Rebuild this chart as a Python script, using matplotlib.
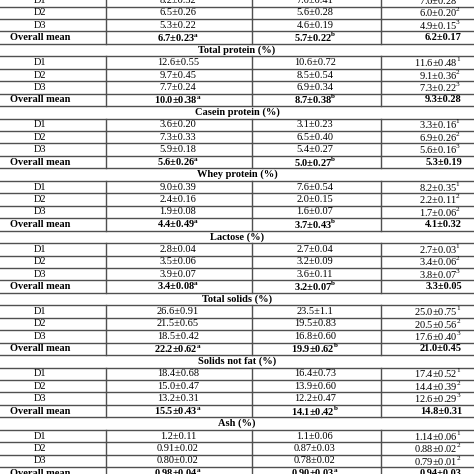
import matplotlib
matplotlib.use("Agg")
import matplotlib.pyplot as plt

plt.rcParams['font.family'] = 'Liberation Serif'
plt.rcParams['mathtext.fontset'] = 'custom'
plt.rcParams['mathtext.rm'] = 'Liberation Serif'
plt.rcParams['mathtext.bf'] = 'Liberation Serif:bold'

sections = ["Fat (%)", "Total protein (%)", "Casein protein (%)", "Whey protein (%)",
            "Lactose (%)", "Total solids (%)", "Solids not fat (%)", "Ash (%)"]
row_labels = ["D1", "D2", "D3"]
col_a = [["8.2±0.32", "6.5±0.26", "5.3±0.22"], ["12.6±0.55", "9.7±0.45", "7.7±0.24"],
         ["3.6±0.20", "7.3±0.33", "5.9±0.18"], ["9.0±0.39", "2.4±0.16", "1.9±0.08"],
         ["2.8±0.04", "3.5±0.06", "3.9±0.07"], ["26.6±0.91", "21.5±0.65", "18.5±0.42"],
         ["18.4±0.68", "15.0±0.47", "13.2±0.31"], ["1.2±0.11", "0.91±0.02", "0.80±0.02"]]
col_b = [["7.0±0.41", "5.6±0.28", "4.6±0.19"], ["10.6±0.72", "8.5±0.54", "6.9±0.34"],
         ["3.1±0.23", "6.5±0.40", "5.4±0.27"], ["7.6±0.54", "2.0±0.15", "1.6±0.07"],
         ["2.7±0.04", "3.2±0.09", "3.6±0.11"], ["23.5±1.1", "19.5±0.83", "16.8±0.60"],
         ["16.4±0.73", "13.9±0.60", "12.2±0.47"], ["1.1±0.06", "0.87±0.03", "0.78±0.02"]]
col_c = [["7.6±0.28", "6.0±0.20", "4.9±0.15"], ["11.6±0.48", "9.1±0.36", "7.3±0.22"],
         ["3.3±0.16", "6.9±0.26", "5.6±0.16"], ["8.2±0.35", "2.2±0.11", "1.7±0.06"],
         ["2.7±0.03", "3.4±0.06", "3.8±0.07"], ["25.0±0.75", "20.5±0.56", "17.6±0.40"],
         ["17.4±0.52", "14.4±0.39", "12.6±0.29"], ["1.14±0.06", "0.88±0.02", "0.79±0.01"]]
col_c_sup = [["1", "2", "3"], ["1", "2", "3"], ["1", "2", "3"], ["1", "2", "2"],
             ["1", "2", "3"], ["1", "2", "3"], ["1", "2", "3"], ["1", "2", "2"]]
mean_a = ["6.7±0.23", "10.0±0.38", "5.6±0.26", "4.4±0.49", "3.4±0.08", "22.2±0.62", "15.5±0.43", "0.98±0.04"]
mean_b = ["5.7±0.22", "8.7±0.38", "5.0±0.27", "3.7±0.43", "3.2±0.07", "19.9±0.62", "14.1±0.42", "0.90±0.03"]
mean_c = ["6.2±0.17", "9.3±0.28", "5.3±0.19", "4.1±0.32", "3.3±0.05", "21.0±0.45", "14.8±0.31", "0.94±0.03"]
mean_a_sup = ["a"] * 8
mean_b_sup = ["b"] * 7 + ["a"]

fig = plt.figure(figsize=(4.74, 4.74), dpi=100)
ax = fig.add_axes([0, 0, 1, 1])
ax.set_xlim(0, 474)
ax.set_ylim(474, 0)
ax.axis('off')

rh = 12.45
y0 = 0.3
fs = 7.5
lc = '#505050'
xv = [106, 252, 381]
xc1, xc2, xc3, xr4 = 40, 178, 315, 461

rows = []
for s in range(len(sections)):
    if s > 0:
        rows.append(('h', s, None))
    for i in range(3):
        rows.append(('d', s, i))
    rows.append(('m', s, None))

for k, (kind, s, i) in enumerate(rows):
    y = y0 + k * rh
    top, bot = y - rh / 2, y + rh / 2
    ax.plot([0, 474], [bot, bot], color=lc, lw=1.0)
    if kind == 'h':
        ax.text(237, y, sections[s], ha='center', va='center', fontsize=fs, fontweight='bold')
        continue
    for xx in xv:
        ax.plot([xx, xx], [top, bot], color=lc, lw=1.0)
    if kind == 'd':
        ax.text(xc1, y, row_labels[i], ha='center', va='center', fontsize=fs)
        ax.text(xc2, y, col_a[s][i], ha='center', va='center', fontsize=fs)
        ax.text(xc3, y, col_b[s][i], ha='center', va='center', fontsize=fs)
        ax.text(xr4, y, col_c[s][i] + r"$^{\mathrm{" + col_c_sup[s][i] + "}}$",
                ha='right', va='center', fontsize=fs)
    else:
        ax.text(10, y, "Overall mean", ha='left', va='center', fontsize=fs, fontweight='bold')
        ax.text(xc2, y, mean_a[s] + r"$^{\mathbf{" + mean_a_sup[s] + "}}$",
                ha='center', va='center', fontsize=fs, fontweight='bold')
        ax.text(xc3, y, mean_b[s] + r"$^{\mathbf{" + mean_b_sup[s] + "}}$",
                ha='center', va='center', fontsize=fs, fontweight='bold')
        ax.text(xr4 + 1, y, mean_c[s], ha='right', va='center', fontsize=fs, fontweight='bold')

fig.savefig("out.png", dpi=100, facecolor='white')
